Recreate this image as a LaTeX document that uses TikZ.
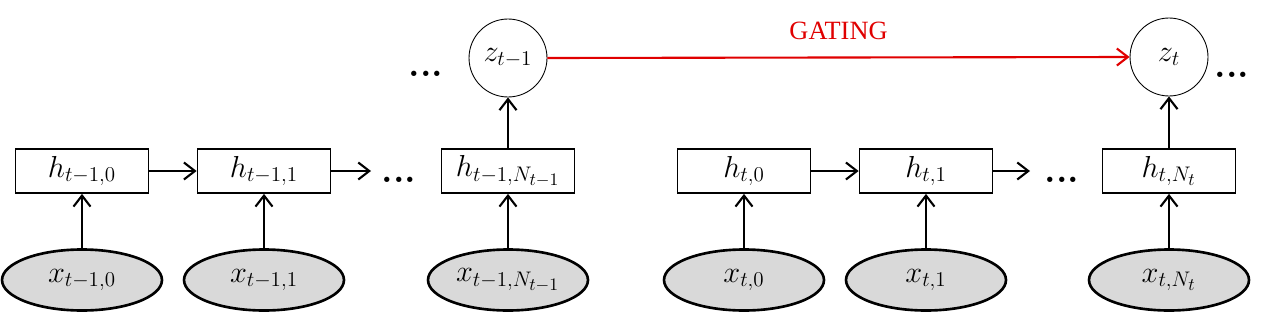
\documentclass[tikz,border=0pt]{standalone}
\usepackage{fontspec}
\usetikzlibrary{arrows.meta,shapes.geometric}
\newfontfamily\gatefont{Liberation Serif}
\definecolor{xfill}{HTML}{D9D9D9}
\definecolor{gatered}{HTML}{E00000}
\DeclareMathSizes{17}{17}{13}{10}
\begin{document}
\begin{tikzpicture}[x=0.02cm,y=-0.02cm,
  lbl/.style={font=\fontsize{17}{20}\selectfont},
  hbox/.style={draw,line width=1pt,minimum width=2.66cm,minimum height=0.88cm,inner sep=0pt,lbl},
  xell/.style={ellipse,draw,line width=1.5pt,fill=xfill,minimum width=3.2cm,minimum height=1.22cm,inner sep=0pt,lbl},
  zcirc/.style={circle,draw,line width=0.5pt,minimum size=1.56cm,inner sep=0pt,lbl},
  conn/.style={line width=1.2pt,-{Straight Barb[length=2.2mm,width=3.4mm,line width=1.2pt]}},
  dotsnode/.style={font=\fontsize{21}{24}\selectfont\bfseries,inner sep=0pt}
]
\useasboundingbox (0,0) rectangle (1287,311);
% boxes
\node[hbox] (h10) at (82,171) {$h_{t-1,0}$};
\node[hbox] (h11) at (264,171) {$h_{t-1,1}$};
\node[hbox] (h1N) at (508,171) {$h_{t-1,N_{t-1}}$};
\node[hbox] (h20) at (744,171) {$h_{t,0}$};
\node[hbox] (h21) at (926,171) {$h_{t,1}$};
\node[hbox] (h2N) at (1169,171) {$h_{t,N_t}$};
% ellipses
\node[xell] (x10) at (82,280) {$x_{t-1,0}$};
\node[xell] (x11) at (264,280) {$x_{t-1,1}$};
\node[xell] (x1N) at (508,280) {$x_{t-1,N_{t-1}}$};
\node[xell] (x20) at (744,280) {$x_{t,0}$};
\node[xell] (x21) at (926,280) {$x_{t,1}$};
\node[xell] (x2N) at (1169,280) {$x_{t,N_t}$};
% circles
\node[zcirc] (z1) at (508,58) {$z_{t-1}$};
\node[zcirc] (z2) at (1169,57) {$z_t$};
% dots
\node[dotsnode] (d1) at (399,180) {...};
\node[dotsnode] (d2) at (1062,180) {...};
\node[dotsnode] (d3) at (426,74) {...};
\node[dotsnode] (d4) at (1232,75) {...};
% free ends
\coordinate (e1) at (371,171);
\coordinate (e2) at (1030,171);
% connectors
\foreach \a/\b in {x10/h10,x11/h11,x1N/h1N,x20/h20,x21/h21,x2N/h2N,h1N/z1,h2N/z2}
  \draw[conn] (\a.north) -- (\b.south);
\draw[conn] (h10.east) -- (h11.west);
\draw[conn] (h11.east) -- (e1);
\draw[conn] (h20.east) -- (h21.west);
\draw[conn] (h21.east) -- (e2);
\draw[conn,draw=gatered,-{Straight Barb[length=2.2mm,width=3.4mm,line width=1.2pt,color=gatered]}] (z1.east) -- node[above=6pt,font=\gatefont\fontsize{15}{18}\selectfont,text=gatered] {GATING} (z2.west);
\end{tikzpicture}
\end{document}
